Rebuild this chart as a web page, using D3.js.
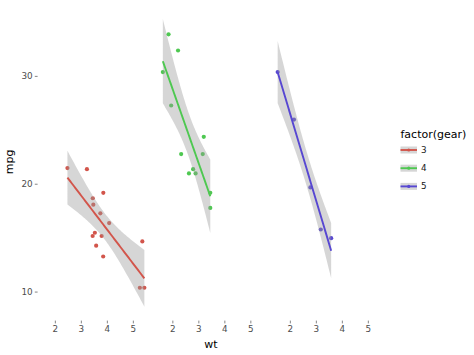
<!DOCTYPE html>
<html>
<head>
<meta charset="utf-8">
<script src="https://cdn.jsdelivr.net/npm/d3@7"></script>
<style>
  html, body { margin: 0; padding: 0; background: #ffffff; }
  svg { display: block; }
  text { font-family: "DejaVu Sans", sans-serif; }
</style>
</head>
<body>
<script>
// ---- data (mtcars, split by gear) ----
const gears = ["3", "4", "5"];
const wt3  = [2.465, 3.215, 3.44, 3.46, 3.57, 3.52, 3.435, 4.07, 3.73, 3.78, 3.84, 3.845, 5.25, 5.424, 5.345];
const mpg3 = [21.5, 21.4, 18.7, 18.1, 14.3, 15.5, 15.2, 16.4, 17.3, 15.2, 13.3, 19.2, 10.4, 10.4, 14.7];
const wt4  = [2.62, 2.875, 2.32, 3.19, 3.15, 3.44, 3.44, 2.2, 1.615, 1.835, 1.935, 2.78];
const mpg4 = [21.0, 21.0, 22.8, 24.4, 22.8, 19.2, 17.8, 32.4, 30.4, 33.9, 27.3, 21.4];
const wt5  = [2.14, 1.513, 3.17, 2.77, 3.57];
const mpg5 = [26.0, 30.4, 15.8, 19.7, 15.0];
const xTicks = [2, 3, 4, 5];
const yTicks = [10, 20, 30];
const colors = ["#D2554B", "#4EC851", "#5747D2"];

const groups = [
  { gear: gears[0], wt: wt3, mpg: mpg3 },
  { gear: gears[1], wt: wt4, mpg: mpg4 },
  { gear: gears[2], wt: wt5, mpg: mpg5 }
];

// ---- layout ----
const W = 474, H = 355;
const panelW = 111.85, panelStep = 117.5, panelX0 = 37.6;
const panelTop = 5.0, panelBottom = 318.6;

const svg = d3.select("body").append("svg").attr("width", W).attr("height", H);

// shared scales (facets share x and y)
const x = d3.scaleLinear().domain([1.3175, 5.6195]).range([0, panelW]);
const y = d3.scaleLinear().domain([7.54, 36.62]).range([panelBottom, panelTop]);

// t quantiles (0.975) for df = n - 2
const tq = { 3: 3.182446, 10: 2.228139, 13: 2.160369 };

function lmFit(xs, ys) {
  const n = xs.length;
  const mx = d3.mean(xs), my = d3.mean(ys);
  let sxx = 0, sxy = 0;
  for (let i = 0; i < n; i++) { sxx += (xs[i] - mx) ** 2; sxy += (xs[i] - mx) * (ys[i] - my); }
  const b = sxy / sxx, a = my - b * mx;
  let sse = 0;
  for (let i = 0; i < n; i++) sse += (ys[i] - a - b * xs[i]) ** 2;
  const s = Math.sqrt(sse / (n - 2));
  const t = tq[n - 2];
  const lo = d3.min(xs), hi = d3.max(xs);
  const pts = d3.range(80).map(k => {
    const xv = lo + (hi - lo) * k / 79;
    const fit = a + b * xv;
    const se = s * Math.sqrt(1 / n + (xv - mx) ** 2 / sxx);
    return { x: xv, y: fit, ymin: fit - t * se, ymax: fit + t * se };
  });
  return pts;
}

const tickCol = "#333333";
const tickLab = "#4D4D4D";

// y axis (left of first panel)
const yAxisG = svg.append("g");
yTicks.forEach(v => {
  yAxisG.append("line")
    .attr("x1", panelX0 - 2.8).attr("x2", panelX0)
    .attr("y1", y(v)).attr("y2", y(v))
    .attr("stroke", tickCol).attr("stroke-width", 0.6);
  yAxisG.append("text")
    .attr("x", panelX0 - 5).attr("y", y(v)).attr("dy", "0.34em")
    .attr("text-anchor", "end").attr("font-size", 8.8).attr("fill", tickLab)
    .text(v);
});

groups.forEach((g, gi) => {
  const px = panelX0 + gi * panelStep;
  const pg = svg.append("g").attr("transform", `translate(${px},0)`);
  const col = colors[gi];
  const band = lmFit(g.wt, g.mpg);

  // points (drawn first, ribbon overlays them)
  pg.selectAll("circle").data(g.wt.map((w, i) => ({ w, m: g.mpg[i] })))
    .enter().append("circle")
    .attr("cx", d => x(d.w)).attr("cy", d => y(d.m))
    .attr("r", 2.1).attr("fill", col);

  // confidence ribbon
  pg.append("path").datum(band)
    .attr("d", d3.area().x(d => x(d.x)).y0(d => y(d.ymin)).y1(d => y(d.ymax)))
    .attr("fill", "#999999").attr("fill-opacity", 0.4);

  // fitted line
  pg.append("path").datum(band)
    .attr("d", d3.line().x(d => x(d.x)).y(d => y(d.y)))
    .attr("fill", "none").attr("stroke", col).attr("stroke-width", 1.9);

  // x axis ticks
  xTicks.forEach(v => {
    pg.append("line")
      .attr("x1", x(v)).attr("x2", x(v))
      .attr("y1", panelBottom + 2).attr("y2", panelBottom + 4.8)
      .attr("stroke", tickCol).attr("stroke-width", 0.6);
    pg.append("text")
      .attr("x", x(v)).attr("y", 332)
      .attr("text-anchor", "middle").attr("font-size", 8.8).attr("fill", tickLab)
      .text(v);
  });
});

// axis titles
svg.append("text")
  .attr("x", (panelX0 + 2 * panelStep + panelW + panelX0) / 2).attr("y", 348)
  .attr("text-anchor", "middle").attr("font-size", 11).attr("fill", "#000")
  .text("wt");
svg.append("text")
  .attr("transform", `translate(13,${(panelTop + panelBottom) / 2}) rotate(-90)`)
  .attr("text-anchor", "middle").attr("font-size", 11).attr("fill", "#000")
  .text("mpg");

// legend
const lg = svg.append("g").attr("transform", "translate(400.5,0)");
lg.append("text").attr("x", 0).attr("y", 138).attr("font-size", 11).attr("fill", "#000")
  .text("factor(gear)");
gears.forEach((gName, i) => {
  const cy = 150 + i * 18.2;
  lg.append("rect").attr("x", 0).attr("y", cy - 3.5).attr("width", 16.5).attr("height", 7)
    .attr("fill", "#999999").attr("fill-opacity", 0.4);
  lg.append("line").attr("x1", 0).attr("x2", 16.5).attr("y1", cy).attr("y2", cy)
    .attr("stroke", colors[i]).attr("stroke-width", 1.9);
  lg.append("circle").attr("cx", 8.25).attr("cy", cy).attr("r", 1.6).attr("fill", colors[i]);
  lg.append("text").attr("x", 20.5).attr("y", cy).attr("dy", "0.34em")
    .attr("font-size", 8.8).attr("fill", "#1a1a1a").text(gName);
});
</script>
</body>
</html>
